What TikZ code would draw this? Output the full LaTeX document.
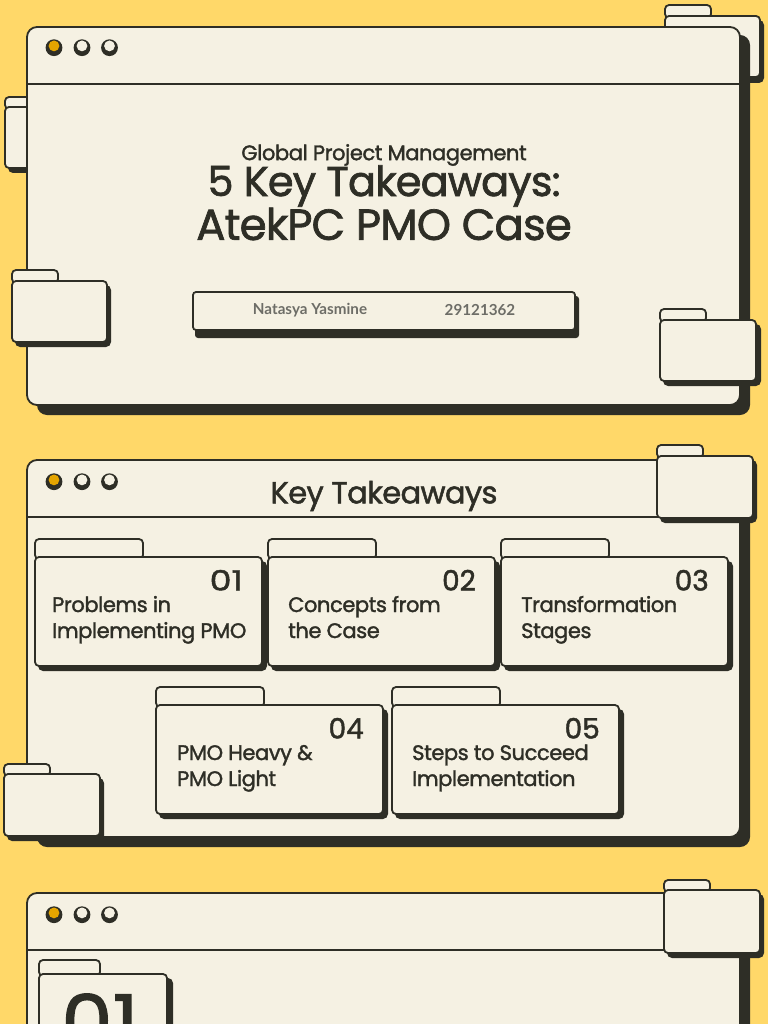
\documentclass[tikz,border=0pt]{standalone}
\usepackage{fontspec}
\setmainfont{Poppins}[FakeBold=1.6]
\newfontfamily\namefont{Lato}
\definecolor{bgyellow}{HTML}{FFD869}
\definecolor{cream}{HTML}{F5F1E3}
\definecolor{ink}{HTML}{2E2E26}
\definecolor{gold}{HTML}{E5A500}
\newcommand{\fs}[1]{\fontsize{#1}{#1}\selectfont}
% x y w h tabw tabh shadowx shadowy
\newcommand{\folderbox}[8]{%
  \fill[ink,rounded corners=5pt] (#1+3,#2+4) rectangle (#1+#3+#7,#2+#4+#8);
  \draw[outl,rounded corners=4pt] (#1,#2+2) -- (#1,#2-#6) -- (#1+#5,#2-#6) -- (#1+#5,#2+2) -- cycle;
  \draw[outl,rounded corners=4pt] (#1,#2) rectangle (#1+#3,#2+#4);
}
\newcommand{\winbox}[4]{% y top, y line, y bottom, y dots
  \fill[ink,rounded corners=10pt] (37,#1+8) rectangle (750,#3+10);
  \draw[outl,rounded corners=10pt] (27,#1) rectangle (740,#3);
  \draw[ink,line width=1.6pt] (27,#2) -- (740,#2);
  \foreach \cx/\cc in {54/gold,82/cream,109.5/cream}{
    \fill[ink] (\cx,#4+1.2) circle (8.4);
    \fill[\cc] (\cx,#4-0.6) circle (5.4);
  }
}
\tikzset{
  outl/.style={fill=cream,draw=ink,line width=1.8pt},
  txt/.style={text=ink,inner sep=0pt,font=\fs{20}},
  cardtxt/.style={txt,anchor=base west,font=\fs{21}\addfontfeatures{LetterSpace=-2}},
  cardnum/.style={txt,anchor=base east,font=\fs{28}},
  cardnumwide/.style={txt,anchor=base east,font=\fs{28}\addfontfeatures{FakeStretch=1.25}}
}
\begin{document}
\begin{tikzpicture}[x=1pt,y=-1pt]
\useasboundingbox (0,0) rectangle (768,1024);
\clip (0,0) rectangle (768,1024);
\fill[bgyellow] (0,0) rectangle (768,1024);
% window 1 and what lies behind it
\folderbox{665}{16}{95}{61}{46}{11}{4}{6}
\folderbox{5}{107}{40}{61}{25}{10}{4}{5}
\winbox{27}{84}{405}{46.5}
\folderbox{12}{281}{95}{61}{46}{11}{4}{5}
\folderbox{660}{320}{96}{61}{46}{11}{5}{5}
\node[txt,font=\fs{21}\addfontfeatures{LetterSpace=-2}] (subtitle) at (384,155) {Global Project Management};
\node[txt,font=\fs{41.5}\addfontfeatures{LetterSpace=-2}] (title1) at (384,186) {5 Key Takeaways:};
\node[txt,font=\fs{43.5}\addfontfeatures{LetterSpace=-2}] (title2) at (384,224) {AtekPC PMO Case};
\fill[ink,rounded corners=3pt] (195,296) rectangle (579,338);
\draw[outl,rounded corners=3pt] (193,292) rectangle (575,330);
\node[inner sep=0pt,text=ink!70,font=\namefont\bfseries\fs{15.2}] (author) at (310,310) {Natasya Yasmine};
\node[inner sep=0pt,text=ink!70,font=\namefont\bfseries\fs{15.2}] (studentid) at (480,310) {29121362};
% window 2
\winbox{460}{517}{837}{480.5}
\folderbox{657}{456}{96}{62}{46}{11}{4}{5}
\node[txt,font=\fs{30.5}\addfontfeatures{LetterSpace=-2}] (heading) at (384,496) {Key Takeaways};
\folderbox{35}{557}{227}{109}{108}{18}{5}{5}
\folderbox{268}{557}{227}{109}{108}{18}{5}{5}
\folderbox{501}{557}{227}{109}{108}{18}{5}{5}
\folderbox{156}{705}{227}{109}{108}{18}{5}{5}
\folderbox{392}{705}{227}{109}{108}{18}{5}{5}
\folderbox{4}{774}{96}{62}{46}{10}{4}{5}
\node[cardnumwide] (n1) at (243,590.5) {01};
\node[cardtxt] (c1a) at (52,612) {Problems in};
\node[cardtxt] (c1b) at (52,638) {Implementing PMO};
\node[cardnum] (n2) at (476,590.5) {02};
\node[cardtxt] (c2a) at (288,612) {Concepts from};
\node[cardtxt] (c2b) at (288,638) {the Case};
\node[cardnum] (n3) at (709,590.5) {03};
\node[cardtxt] (c3a) at (521,612) {Transformation};
\node[cardtxt] (c3b) at (521,638) {Stages};
\node[cardnum] (n4) at (364,738.5) {04};
\node[cardtxt] (c4a) at (177,760) {PMO Heavy \&};
\node[cardtxt] (c4b) at (177,786) {PMO Light};
\node[cardnum] (n5) at (600,738.5) {05};
\node[cardtxt] (c5a) at (412,760) {Steps to Succeed};
\node[cardtxt] (c5b) at (412,786) {Implementation};
% window 3
\winbox{893}{950}{1060}{913.5}
\folderbox{664}{890}{96}{63}{46}{10}{4}{5}
\folderbox{39}{974}{128}{100}{61}{14}{6}{5}
\node[txt,anchor=base,font=\fs{74}\addfontfeatures{FakeStretch=1.1}] (bignum) at (100,1048) {01};
\end{tikzpicture}
\end{document}
